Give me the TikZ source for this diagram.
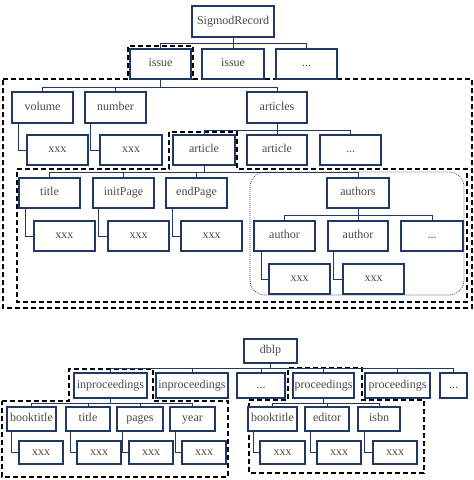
\documentclass[tikz,border=0pt]{standalone}
\usepackage{fontspec}
\setmainfont{Liberation Serif}
\usetikzlibrary{shadows}
\definecolor{navy}{HTML}{1F3864}
\definecolor{txt}{HTML}{4A4A4A}
\tikzset{
 bx/.style={draw=navy, line width=1.5pt, fill=white, inner sep=0.5pt, text=txt,
   font=\fontsize{12}{12}\selectfont, text height=8pt, text depth=2.5pt,
   drop shadow={shadow xshift=1pt, shadow yshift=-1pt, opacity=0.25}},
 conn/.style={draw=navy, line width=0.8pt},
 grp/.style={draw=black, line width=1.3pt, dash pattern=on 5pt off 3pt},
 dotgrp/.style={draw=black!80, line width=0.8pt, dash pattern=on 0.8pt off 1.2pt, rounded corners=15pt},
}
\newcommand\mybox[6]{\node[bx, minimum width=#4pt-#2pt, minimum height=#5pt-#3pt] (#1) at ({(#2+#4)/2},{(#3+#5)/2}) {#6};}
\begin{document}
\begin{tikzpicture}[x=1pt,y=-1pt]
\useasboundingbox (0,0) rectangle (474,480);
% group outlines
\draw[grp] (3,79) -- (128,79) -- (128,46) -- (193,46) -- (193,79) -- (472,79) -- (472,308) -- (3,308) -- cycle;
\draw[grp] (17,169) -- (169,169) -- (169,132) -- (237,132) -- (237,169) -- (467,169) -- (467,302) -- (17,302) -- cycle;
\draw[dotgrp] (250,172) rectangle (464,295);
\draw[grp] (2,401) -- (69,401) -- (69,369) -- (153,369) -- (153,401) -- (228,401) -- (228,477) -- (2,477) -- cycle;
\draw[grp] (249,400) -- (288,400) -- (288,368) -- (362,368) -- (362,400) -- (424,400) -- (424,473) -- (249,473) -- cycle;
% top tree
\mybox{sr}{192}{6}{274}{37}{SigmodRecord}
\mybox{is1}{130}{49}{191}{79}{issue}
\mybox{is2}{202}{49}{264}{79}{issue}
\mybox{isd}{276}{49}{337}{79}{...}
\mybox{vol}{12}{92}{73}{123}{volume}
\mybox{num}{85}{92}{146}{123}{number}
\mybox{arts}{247}{92}{307}{123}{articles}
\mybox{x1}{27}{135}{88}{165}{xxx}
\mybox{x2}{100}{135}{162}{165}{xxx}
\mybox{art1}{173}{135}{235}{165}{article}
\mybox{art2}{247}{135}{307}{165}{article}
\mybox{artd}{320}{135}{381}{165}{...}
\mybox{tit}{19}{178}{80}{208}{title}
\mybox{ip}{93}{178}{154}{208}{initPage}
\mybox{ep}{166}{178}{227}{208}{endPage}
\mybox{aus}{327}{178}{389}{208}{authors}
\mybox{x3}{34}{221}{95}{251}{xxx}
\mybox{x4}{108}{221}{169}{251}{xxx}
\mybox{x5}{181}{221}{242}{251}{xxx}
\mybox{au1}{254}{221}{315}{251}{author}
\mybox{au2}{328}{221}{388}{251}{author}
\mybox{aud}{401}{221}{463}{251}{...}
\mybox{x6}{269}{264}{330}{294}{xxx}
\mybox{x7}{343}{264}{404}{294}{xxx}
% bottom tree
\mybox{db}{244}{339}{297}{363}{dblp}
\mybox{ip1}{74}{373}{147}{398}{inproceedings}
\mybox{ip2}{156}{373}{228}{398}{inproceedings}
\mybox{d1}{237}{373}{285}{398}{...}
\mybox{pr1}{293}{373}{354}{398}{proceedings}
\mybox{pr2}{365}{373}{430}{398}{proceedings}
\mybox{d2}{440}{373}{467}{398}{...}
\mybox{bt1}{7}{407}{56}{431}{booktitle}
\mybox{ti}{66}{407}{110}{431}{title}
\mybox{pg}{117}{407}{163}{431}{pages}
\mybox{yr}{170}{407}{215}{431}{year}
\mybox{xa}{19}{441}{63}{464}{xxx}
\mybox{xb}{77}{441}{121}{464}{xxx}
\mybox{xc}{129}{441}{173}{464}{xxx}
\mybox{xd}{182}{441}{226}{464}{xxx}
\mybox{bt2}{248}{407}{297}{431}{booktitle}
\mybox{ed}{305}{407}{349}{431}{editor}
\mybox{isb}{358}{407}{400}{431}{isbn}
\mybox{xe}{260}{441}{305}{464}{xxx}
\mybox{xf}{317}{441}{361}{464}{xxx}
\mybox{xg}{373}{441}{417}{464}{xxx}
% connectors top
\draw[conn] (sr.south) -- ++(0,6) coordinate (b1);
\draw[conn] (b1) -| (is1.north);
\draw[conn] (b1) -| (is2.north);
\draw[conn] (b1) -| (isd.north);
\draw[conn] (is1.south) -- ++(0,8) coordinate (b2);
\draw[conn] (b2) -| (vol.north);
\draw[conn] (b2) -| (num.north);
\draw[conn] (b2) -| (arts.north);
\draw[conn] ([xshift=7pt]vol.south west) |- (x1.west);
\draw[conn] ([xshift=6pt]num.south west) |- (x2.west);
\draw[conn] (arts.south) -- ++(0,7) coordinate (b3);
\draw[conn] (b3) -| (art1.north);
\draw[conn] (b3) -| (art2.north);
\draw[conn] (b3) -| (artd.north);
\draw[conn] (art1.south) -- ++(0,7) coordinate (b4);
\draw[conn] (b4) -| (tit.north);
\draw[conn] (b4) -| (ip.north);
\draw[conn] (b4) -| (ep.north);
\draw[conn] (b4) -| (aus.north);
\draw[conn] ([xshift=7pt]tit.south west) |- (x3.west);
\draw[conn] ([xshift=6pt]ip.south west) |- (x4.west);
\draw[conn] ([xshift=7pt]ep.south west) |- (x5.west);
\draw[conn] (aus.south) -- ++(0,7) coordinate (b5);
\draw[conn] (b5) -| (au1.north);
\draw[conn] (b5) -| (au2.north);
\draw[conn] (b5) -| (aud.north);
\draw[conn] ([xshift=8pt]au1.south west) |- (x6.west);
\draw[conn] ([xshift=6pt]au2.south west) |- (x7.west);
% connectors bottom
\draw[conn] (db.south) -- ++(0,5) coordinate (c1);
\draw[conn] (c1) -| (ip1.north);
\draw[conn] (c1) -| (ip2.north);
\draw[conn] (c1) -| (d1.north);
\draw[conn] (c1) -| (pr1.north);
\draw[conn] (c1) -| (pr2.north);
\draw[conn] (c1) -| (d2.north);
\draw[conn] (ip1.south) -- ++(0,5) coordinate (c2);
\draw[conn] (c2) -| (bt1.north);
\draw[conn] (c2) -| (ti.north);
\draw[conn] (c2) -| (pg.north);
\draw[conn] (c2) -| (yr.north);
\draw[conn] ([xshift=5pt]bt1.south west) |- (xa.west);
\draw[conn] ([xshift=5pt]ti.south west) |- (xb.west);
\draw[conn] ([xshift=6pt]pg.south west) |- (xc.west);
\draw[conn] ([xshift=6pt]yr.south west) |- (xd.west);
\draw[conn] (pr1.south) -- ++(0,5) coordinate (c3);
\draw[conn] (c3) -| (bt2.north);
\draw[conn] (c3) -| (ed.north);
\draw[conn] (c3) -| (isb.north);
\draw[conn] ([xshift=6pt]bt2.south west) |- (xe.west);
\draw[conn] ([xshift=6pt]ed.south west) |- (xf.west);
\draw[conn] ([xshift=7pt]isb.south west) |- (xg.west);
\end{tikzpicture}
\end{document}
